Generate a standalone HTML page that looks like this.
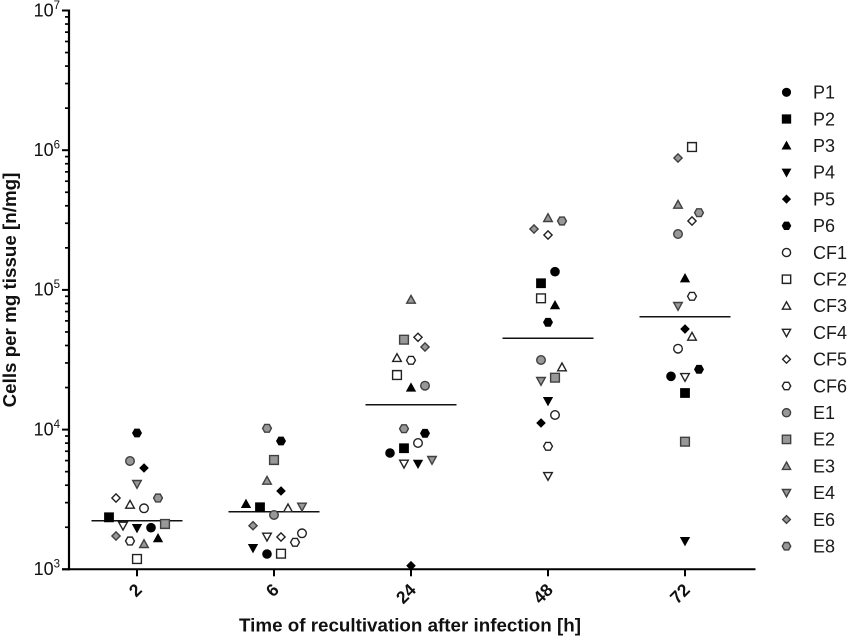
<!DOCTYPE html>
<html lang="en">
<head>
<meta charset="utf-8">
<title>Cells per mg tissue over time</title>
<style>
  html, body { margin: 0; padding: 0; background: #fff; }
  svg { display: block; font-family: "Liberation Sans", Arial, sans-serif; }
</style>
</head>
<body>
<svg id="chart" width="850" height="638" viewBox="0 0 850 638" xmlns="http://www.w3.org/2000/svg"></svg>
<script>
const categories = ['2', '6', '24', '48', '72'];
const yDecades = [3, 4, 5, 6, 7];
const seriesNames = ['P1','P2','P3','P4','P5','P6','CF1','CF2','CF3','CF4','CF5','CF6','E1','E2','E3','E4','E6','E8'];
const means = [2228, 2584, 15070, 45030, 64280];

const valuesP1 = [1985, 1287, 6800, 135000, 24060];
const valuesP2 = [2356, 2778, 7348, 111500, 18280];
const valuesP3 = [1667, 2933, 19950, 77600, 121000];
const valuesP4 = [1975, 1421, 5700, 16020, 1594];
const valuesP5 = [5310, 3635, 1061, 11150, 52490];
const valuesP6 = [9456, 8286, 9408, 58630, 27010];
const valuesCF1 = [2733, 1810, 8018, 12720, 37940];
const valuesCF2 = [1185, 1293, 24590, 87090, 1054000];
const valuesCF3 = [2900, 2733, 32550, 27920, 46240];
const valuesCF4 = [2052, 1711, 5700, 4654, 23790];
const valuesCF5 = [3238, 1703, 45780, 247200, 311400];
const valuesCF6 = [1594, 1561, 31340, 7595, 90000];
const valuesE1 = [5960, 2447, 20620, 31490, 251200];
const valuesE2 = [2110, 6060, 44000, 23520, 8193];
const valuesE3 = [1517, 4307, 85080, 327000, 407300];
const valuesE4 = [4080, 2806, 6060, 22280, 76700];
const valuesE6 = [1731, 2052, 39030, 272800, 879400];
const valuesE8 = [3238, 10216, 10150, 311400, 357000];

/* swarm column of each point relative to its category centre */
const swarmP1 = [2, -1, -3, 1, -2];
const swarmP2 = [-4, -2, -1, -1, 0];
const swarmP3 = [3, -4, 0, 1, 0];
const swarmP4 = [0, -3, 1, 0, 0];
const swarmP5 = [1, 1, 0, -1, 0];
const swarmP6 = [0, 1, 2, 0, 2];
const swarmCF1 = [1, 4, 1, 1, -1];
const swarmCF2 = [0, 1, -2, -1, 1];
const swarmCF3 = [-1, 2, -2, 2, 1];
const swarmCF4 = [-2, -1, -1, 0, 0];
const swarmCF5 = [-3, 1, 1, 0, 1];
const swarmCF6 = [-1, 3, 0, 0, 1];
const swarmE1 = [-1, 0, 2, -1, -1];
const swarmE2 = [4, 0, -1, 1, 0];
const swarmE3 = [1, -1, 0, 0, -1];
const swarmE4 = [0, 4, 3, -1, -1];
const swarmE6 = [-3, -3, 2, -2, -1];
const swarmE8 = [3, -1, -1, 2, 2];

const seriesValues = [valuesP1, valuesP2, valuesP3, valuesP4, valuesP5, valuesP6, valuesCF1, valuesCF2, valuesCF3, valuesCF4, valuesCF5, valuesCF6, valuesE1, valuesE2, valuesE3, valuesE4, valuesE6, valuesE8];
const seriesSwarm = [swarmP1, swarmP2, swarmP3, swarmP4, swarmP5, swarmP6, swarmCF1, swarmCF2, swarmCF3, swarmCF4, swarmCF5, swarmCF6, swarmE1, swarmE2, swarmE3, swarmE4, swarmE6, swarmE8];

const NS = 'http://www.w3.org/2000/svg';
const svg = document.getElementById('chart');

function xScale(i, column) {
  return 137 + 137 * i + 7 * (column || 0);
}
function yScale(v) {
  return 569.3 - 139.7 * (Math.log10(v) - 3);
}
function make(tag, attrs, parent) {
  const el = document.createElementNS(NS, tag);
  for (const k in attrs) el.setAttribute(k, attrs[k]);
  (parent || svg).appendChild(el);
  return el;
}
function markerPoints(shape, x, y, s) {
  const pts = {
    square: [[-s * 1.07, -s * 1.07], [s * 1.07, -s * 1.07], [s * 1.07, s * 1.07], [-s * 1.07, s * 1.07]],
    up: [[0, -s * 1.05], [s * 1.05, s * 0.85], [-s * 1.05, s * 0.85]],
    down: [[0, s * 1.05], [s * 1.05, -s * 0.85], [-s * 1.05, -s * 0.85]],
    diamond: [[0, -s], [s, 0], [0, s], [-s, 0]],
    hexagon: [[-s * 1.08, 0], [-s * 0.55, -s * 0.95], [s * 0.55, -s * 0.95], [s * 1.08, 0], [s * 0.55, s * 0.95], [-s * 0.55, s * 0.95]]
  };
  return pts[shape].map(p => (x + p[0]).toFixed(2) + ',' + (y + p[1]).toFixed(2)).join(' ');
}
function seriesShape(index) {
  return ['circle', 'square', 'up', 'down', 'diamond', 'hexagon'][index % 6];
}
function seriesFill(index) {
  return ['#000000', '#ffffff', '#989898'][Math.floor(index / 6)];
}
function seriesStroke(index) {
  return ['#000000', '#222222', '#404040'][Math.floor(index / 6)];
}
function seriesStrokeWidth(index) {
  return [1, 1.4, 1.4][Math.floor(index / 6)];
}
function drawMarker(parent, index, x, y, scale) {
  const shape = seriesShape(index);
  const paint = { fill: seriesFill(index), stroke: seriesStroke(index), 'stroke-width': seriesStrokeWidth(index) };
  if (shape === 'circle') {
    return make('circle', Object.assign({ cx: x.toFixed(2), cy: y.toFixed(2), r: 4.3 * scale }, paint), parent);
  }
  return make('polygon', Object.assign({ points: markerPoints(shape, x, y, 4.1 * scale) }, paint), parent);
}

/* y axis */
const yAxis = make('g', {});


const yLine = make('line', { x1: 69, x2: 69, y1: yScale(1e7) - 1, y2: yScale(1e3) + 1, stroke: '#000', 'stroke-width': 2.2 }, yAxis);


yDecades.forEach((d, idx) => {
  const v = Math.pow(10, d);
  const tick = make('line', { x1: 62, x2: 69, y1: yScale(v), y2: yScale(v), stroke: '#000', 'stroke-width': 2 }, yAxis);
  
  
  const label = make('text', { x: 60, y: yScale(v) + 5.8, 'text-anchor': 'end', 'font-size': 18, fill: '#111' }, yAxis);
  
  
  const base = make('tspan', {}, label);
  base.textContent = '10';
  const sup = make('tspan', { dy: -7.5, 'font-size': 11.5 }, label);
  sup.textContent = String(d);
  if (idx < yDecades.length - 1) {
    for (let m = 2; m <= 9; m++) {
      const minor = make('line', { x1: 65, x2: 69, y1: yScale(m * v), y2: yScale(m * v), stroke: '#000', 'stroke-width': 1.7 }, yAxis);
      
      
    }
  }
});

/* x axis */
const xAxis = make('g', {});


const xLine = make('line', { x1: 62, x2: 755.5, y1: yScale(1e3), y2: yScale(1e3), stroke: '#000', 'stroke-width': 2 }, xAxis);


categories.forEach((c, i) => {
  const tick = make('line', { x1: xScale(i), x2: xScale(i), y1: yScale(1e3), y2: yScale(1e3) + 7, stroke: '#000', 'stroke-width': 2 }, xAxis);
  
  
  const lx = xScale(i) + 6;
  const ly = 591;
  const label = make('text', { x: lx, y: ly, 'text-anchor': 'end', 'font-size': 17.5, 'font-weight': 'bold', fill: '#111', transform: 'rotate(-45 ' + lx + ' ' + ly + ')' }, xAxis);
  
  
  label.textContent = c;
});

/* axis titles */
const yTitle = make('text', { x: 16, y: 290, 'text-anchor': 'middle', 'font-size': 18.8, 'font-weight': 'bold', fill: '#111', transform: 'rotate(-90 16 290)' });


yTitle.textContent = 'Cells per mg tissue [n/mg]';
const xTitle = make('text', { x: 410, y: 631.5, 'text-anchor': 'middle', 'font-size': 18.8, 'font-weight': 'bold', fill: '#111' });


xTitle.textContent = 'Time of recultivation after infection [h]';

/* mean lines */
means.forEach((m, i) => {
  const line = make('line', { x1: xScale(i) - 45.5, x2: xScale(i) + 45.5, y1: yScale(m), y2: yScale(m), stroke: '#111', 'stroke-width': 1.5 });
  
  
});

/* points */
seriesNames.forEach((name, s) => {
  const group = make('g', {});
  
  
  seriesValues[s].forEach((v, i) => {
    const mark = drawMarker(group, s, xScale(i, seriesSwarm[s][i]), yScale(v), 1);
    
    
  });
});

/* legend */
const legend = make('g', {});


seriesNames.forEach((name, s) => {
  const rowY = 92.3 + 26.7 * s;
  const entry = make('g', {}, legend);
  
  
  const mark = drawMarker(entry, s, 786.5, rowY, 0.95);
  
  
  const label = make('text', { x: 813, y: rowY + 6.3, 'font-size': 18, fill: '#1a1a1a' }, entry);
  
  
  label.textContent = name;
});
</script>
</body>
</html>
